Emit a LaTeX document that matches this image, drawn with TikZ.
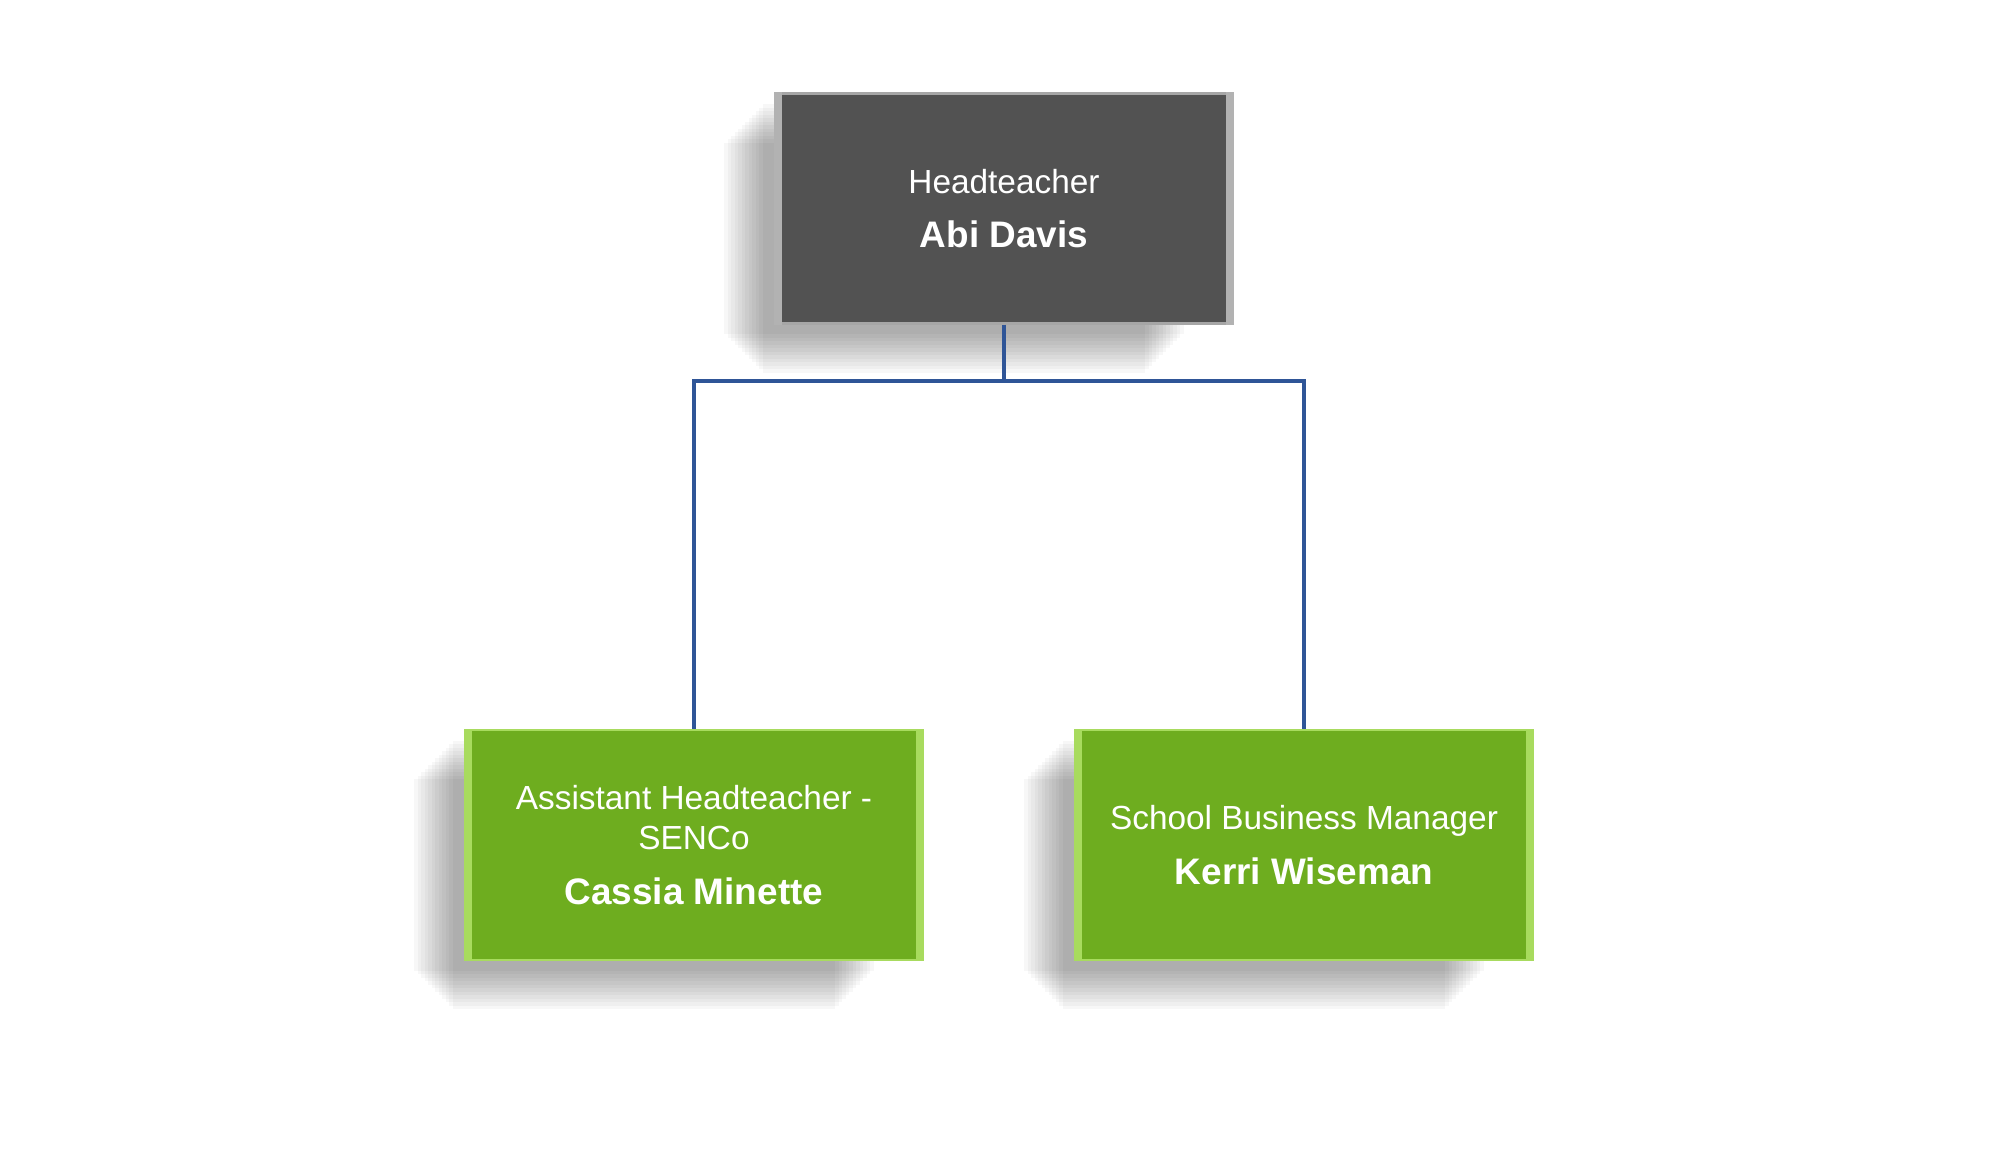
\documentclass[tikz,border=0pt]{standalone}
\usepackage{fontspec}
\setmainfont{Liberation Sans}
\definecolor{darkbox}{HTML}{525252}
\definecolor{greenbox}{HTML}{6EAD1F}
\definecolor{greenedge}{HTML}{A8DB5E}
\definecolor{linkblue}{HTML}{2F5597}
\tikzset{
  orgbox/.style={minimum width=4.58cm, minimum height=2.30cm, inner sep=0pt, align=center, text=white, font=\fontsize{9.5pt}{11.5pt}\selectfont},
  darkstyle/.style={orgbox, fill=darkbox, draw=gray!70, line width=0.6pt},
  greenstyle/.style={orgbox, fill=greenbox, draw=greenedge, line width=0.8pt},
  link/.style={draw=linkblue, line width=1.2pt},
}
\newcommand{\softshadow}[1]{%
  \foreach \k in {0,...,11}{
    \fill[black, opacity=0.03] ([xshift=-0.5cm+\k*0.035cm, yshift=-0.3cm-0.2cm+\k*0.035cm]#1.north west) rectangle ([xshift=-0.5cm-\k*0.035cm, yshift=-0.3cm+0.2cm-\k*0.035cm]#1.south east);
  }%
}
\begin{document}
\begin{tikzpicture}
\useasboundingbox (0,0) rectangle (20,-11.59);
\node[orgbox] (h0) at (10.04,-2.085) {};
\node[orgbox] (l0) at (6.94,-8.45) {};
\node[orgbox] (r0) at (13.04,-8.45) {};
\softshadow{h0}
\softshadow{l0}
\softshadow{r0}
\node[darkstyle] (h) at (10.04,-2.085) {Headteacher\\[4pt]{\fontsize{10.5pt}{12pt}\selectfont\bfseries Abi Davis}};
\node[greenstyle] (l) at (6.94,-8.45) {Assistant Headteacher -\\SENCo\\[4pt]{\fontsize{10.5pt}{12pt}\selectfont\bfseries Cassia Minette}};
\node[greenstyle] (r) at (13.04,-8.45) {School Business Manager\\[4pt]{\fontsize{10.5pt}{12pt}\selectfont\bfseries Kerri Wiseman}};
\foreach \n/\c in {l/greenedge,r/greenedge,h/gray!60}{
  \fill[\c] (\n.north west) rectangle ([xshift=0.08cm]\n.south west);
  \fill[\c] ([xshift=-0.08cm]\n.north east) rectangle (\n.south east);
}
\coordinate (mid) at (10.04,-3.81);
\draw[link] (h.south) -- (mid);
\draw[link] (l.north) |- (mid) -| (r.north);
\end{tikzpicture}
\end{document}
